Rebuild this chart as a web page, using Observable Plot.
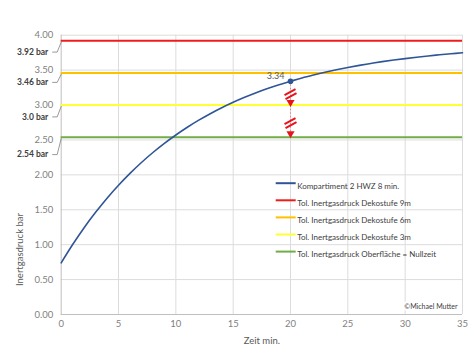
<!DOCTYPE html>
<html><head><meta charset="utf-8">
<script src="https://cdn.jsdelivr.net/npm/d3@7"></script>
<script src="https://cdn.jsdelivr.net/npm/@observablehq/plot@0.6"></script>
<style>
html,body{margin:0;padding:0;background:#fff;}
#chart svg{font-family:Lato,"Open Sans",sans-serif;}
</style></head>
<body><div id="chart"></div>
<script>
// Compartment curve (minutes, bar)
const times = [0,1,2,3,4,5,6,7,8,9,10,11,12,13,14,15,16,17,18,19,20,21,22,23,24,25,26,27,28,29,30,31,32,33,34,35];
const pressures = [0.740,1.002,1.243,1.463,1.666,1.851,2.021,2.177,2.320,2.451,2.571,2.682,2.783,2.876,2.961,3.039,3.110,3.176,3.236,3.291,3.340,3.388,3.430,3.469,3.505,3.538,3.568,3.595,3.621,3.644,3.665,3.685,3.703,3.719,3.734,3.748];
const seriesNames = ["Kompartiment 2 HWZ 8 min.","Tol. Inertgasdruck Dekostufe 9m","Tol. Inertgasdruck Dekostufe 6m","Tol. Inertgasdruck Dekostufe 3m","Tol. Inertgasdruck Oberfläche = Nullzeit"];
const seriesColors = ["#2f5597","#ee1c1c","#ffc000","#ffff33","#70ad47"];
// Tolerated pressures
const limitValues = [3.92, 3.46, 3.0, 2.54];
const limitLabels = ["3.92 bar","3.46 bar","3.0 bar","2.54 bar"];
const yTicks = [0,0.5,1,1.5,2,2.5,3,3.5,4];
const xTicks = [0,5,10,15,20,25,30,35];
const markTime = 20, markValue = 3.34;
const arrowTips = [3.04, 2.59];
const breakMarks = [3.17, 2.755];

const labelDrops = [0.162, 0.136, 0.17, 0.25];
const curve = times.map((t,i)=>({t, p: pressures[i]}));
const limits = limitValues.map((v,i)=>({v, label: limitLabels[i], color: seriesColors[i+1], ly: v - labelDrops[i]}));
const leaders = limits.flatMap((d,i)=>[
  {k:i, x:-0.75, y:d.ly},
  {k:i, x:-0.35, y:d.ly},
  {k:i, x:0, y:d.v - 0.02}
]);

const hline = {draw(ctx, size){ const w = 10; ctx.moveTo(-w,0); ctx.lineTo(w,0); }};
const breakSym = {draw(ctx, size){
  ctx.moveTo(-6,2); ctx.lineTo(5,-4);
  ctx.moveTo(-5,6); ctx.lineTo(6,0);
}};

const legendMarks = seriesNames.flatMap((name,i)=>{
  const dy = 148 + i*17.1;
  return [
    Plot.dot([0], {frameAnchor:"top-left", dx:224.5, dy, symbol:hline, stroke:seriesColors[i], strokeWidth:2, r:5}),
    Plot.text([name], {frameAnchor:"top-left", dx:236, dy, text:d=>d, textAnchor:"start", fontSize:8, fill:"#404040"})
  ];
});

const chart = Plot.plot({
  width: 474, height: 355,
  marginLeft: 60.7, marginRight: 12, marginTop: 34.7, marginBottom: 41,
  x: {domain:[0,35], ticks: xTicks},
  y: {domain:[0,4], ticks: yTicks},
  style: {fontFamily: "Lato, 'Open Sans', sans-serif", background:"#fff"},
  marks: [
    Plot.ruleY(yTicks, {stroke:"#dcdcdc", strokeWidth:1}),
    Plot.ruleX(xTicks.slice(1), {stroke:"#dcdcdc", strokeWidth:1}),
    Plot.ruleX([0], {stroke:"#bfbfbf", strokeWidth:1}),
    Plot.ruleY([0], {stroke:"#bfbfbf", strokeWidth:1}),
    Plot.axisY({ticks:yTicks, tickFormat:d3.format(".2f"), tickSize:0, tickPadding:8, fontSize:9.5, color:"#7f7f7f", label:null}),
    Plot.axisX({ticks:xTicks, tickSize:0, tickPadding:6, fontSize:9.5, color:"#7f7f7f", label:null}),
    Plot.ruleY(limits, {y:"v", stroke:"color", strokeWidth:2}),
    Plot.line(curve, {x:"t", y:"p", stroke:seriesColors[0], strokeWidth:1.6, curve:"catmull-rom"}),
    Plot.ruleX([markTime], {y1:markValue, y2:limitValues[3] + 0.03, stroke:"#f08080", strokeWidth:1, strokeDasharray:"1.5,2"}),
    Plot.dot(arrowTips, {x:()=>markTime, y:d=>d, symbol:"triangle", rotate:180, fill:"#e8141c", r:3}),
    Plot.dot(breakMarks, {x:()=>markTime, y:d=>d, symbol:breakSym, stroke:"#e8141c", strokeWidth:2, r:5}),
    Plot.dot([markValue], {x:()=>markTime, y:d=>d, fill:seriesColors[0], r:2.8}),
    Plot.text([markValue], {x:()=>markTime, y:d=>d, text:d=>d.toFixed(2), dx:-6, dy:-5, textAnchor:"end", fontSize:9, fill:"#595959"}),
    Plot.line(leaders, {x:"x", y:"y", z:"k", stroke:"#808080", strokeWidth:0.8}),
    Plot.text(limits, {x:()=>0, y:"ly", text:"label", dx:-13, textAnchor:"end", fontSize:8.5, fontWeight:"bold", fill:"#404040"}),
    Plot.text(["Inertgasdruck bar"], {x:()=>0, y:()=>0.93, text:d=>d, dx:-41, rotate:-90, fontSize:9.5, fill:"#595959"}),
    Plot.text(["Zeit min."], {frameAnchor:"bottom", dy:29, text:d=>d, fontSize:9.5, fill:"#595959"}),
    Plot.text(["©Michael Mutter"], {frameAnchor:"bottom-right", dx:-5, dy:-6, text:d=>d, textAnchor:"end", fontSize:7, fill:"#404040", stroke:"#fff", strokeWidth:4}),
    ...legendMarks
  ]
});
document.getElementById("chart").append(chart);
</script></body></html>
